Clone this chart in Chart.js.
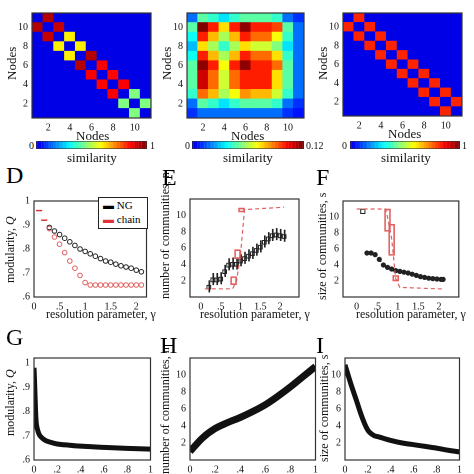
<!DOCTYPE html>
<html><head><meta charset="utf-8">
<script src="https://cdn.jsdelivr.net/npm/chart.js@4"></script>
<style>
body{margin:0;width:474px;height:474px;position:relative;overflow:hidden;background:#fff;font-family:"Liberation Serif",serif;}
canvas{position:absolute;}
.t{position:absolute;white-space:nowrap;font-size:12px;color:#111;line-height:13px;}
.r{transform:rotate(-90deg);transform-origin:left top;}
.L{position:absolute;font-size:24px;}
</style></head><body>
<script>
// ---------- data ----------
const nodes=['1','2','3','4','5','6','7','8','9','10','11'];
const edgesA=[0.95,0.93,0.64,0.64,0.95,0.88,0.87,0.88,0.5,0.5]; // similarity between node i and i+1 (panel A)
const edgesC=[0.84,0.84,0.84,0.84,0.84,0.84,0.84,0.84,0.84,0.84];
const matB=[ // rows from top (y=11) to bottom (y=1)
[0.02,0.05,0.045,0.035,0.045,0.05,0.05,0.05,0.045,0.02,0.012],
[0.05,0.12,0.1,0.075,0.1,0.118,0.1,0.1,0.095,0.05,0.02],
[0.04,0.1,0.08,0.06,0.08,0.1,0.09,0.09,0.07,0.045,0.02],
[0.03,0.075,0.06,0.045,0.06,0.075,0.065,0.065,0.055,0.035,0.02],
[0.04,0.1,0.08,0.06,0.08,0.1,0.09,0.09,0.075,0.045,0.02],
[0.05,0.118,0.1,0.07,0.1,0.118,0.1,0.1,0.09,0.05,0.02],
[0.05,0.11,0.09,0.065,0.09,0.1,0.1,0.1,0.075,0.05,0.02],
[0.05,0.11,0.09,0.065,0.09,0.1,0.1,0.1,0.075,0.05,0.02],
[0.045,0.09,0.08,0.06,0.07,0.085,0.08,0.08,0.065,0.045,0.02],
[0.02,0.05,0.045,0.035,0.045,0.05,0.05,0.05,0.045,0.02,0.012],
[0.012,0.02,0.02,0.02,0.02,0.02,0.02,0.02,0.02,0.012,0.008]];
const gammaD=[0.3,0.4,0.5,0.6,0.7,0.8,0.9,1.0,1.1,1.2,1.3,1.4,1.5,1.6,1.7,1.8,1.9,2.0,2.1];
const qNG=[0.89,0.875,0.86,0.845,0.83,0.815,0.80,0.79,0.78,0.77,0.76,0.75,0.745,0.737,0.73,0.725,0.72,0.712,0.705];
const qChain=[0.885,0.85,0.82,0.785,0.75,0.72,0.69,0.66,0.65,0.65,0.65,0.65,0.65,0.65,0.65,0.65,0.65,0.65,0.65];
const qStartG=[0.1,0.2], qStart=[0.96,0.92];
const gammaE=[0.2,0.3,0.4,0.5,0.6,0.7,0.8,0.9,1.0,1.1,1.2,1.3,1.4,1.5,1.6,1.7,1.8,1.9,2.0,2.1];
const nNG=[1.2,2.1,2.1,2.2,3.1,3.9,4.0,4.0,4.4,4.7,5.0,5.3,5.7,6.1,6.7,7.1,7.5,7.6,7.5,7.4];
const nChainG=[0.1,0.8,0.9,1.0,1.1,2.1], nChain=[1,1,2,5.2,10.7,11];
const gammaF=[0.15,0.25,0.35,0.45,0.55,0.65,0.75,0.85,0.95,1.05,1.15,1.25,1.35,1.45,1.55,1.65,1.75,1.85,1.95,2.05,2.1];
const sNG=[10.7,5.5,5.5,5.3,4.7,4.0,3.7,3.5,3.3,3.2,3.1,3.0,2.85,2.7,2.55,2.45,2.35,2.3,2.25,2.2,2.2];
const sChainG=[0,0.7,0.75,0.85,0.95,1.05,2.1], sChain=[11,11,10,7.3,2.3,1.2,1];
const boxE=[[0.9,1.5,2.5],[1.0,4.7,5.8],[1.1,10.4,10.9]];
const boxF=[[0.75,8.2,11],[0.85,5.2,9.1],[0.95,2.0,2.7]];
const xG=[0,0.005,0.01,0.02,0.04,0.06,0.1,0.15,0.2,0.3,0.4,0.6,0.8,1];
const qG=[0.98,0.92,0.85,0.75,0.71,0.695,0.68,0.672,0.666,0.661,0.657,0.652,0.648,0.645];
const xH=[0,0.1,0.2,0.3,0.4,0.5,0.6,0.7,0.8,0.9,1];
const nH=[1,2.6,3.7,4.4,5.0,5.7,6.5,7.5,8.6,9.8,11];
const xI=[0,0.05,0.1,0.15,0.2,0.25,0.3,0.4,0.5,0.6,0.7,0.8,0.9,1];
const sI=[11.2,9,7,5,3.5,2.9,2.7,2.3,2.0,1.8,1.6,1.4,1.15,0.95];
const nodeTicks=[2,4,6,8,10];

// ---------- helpers ----------
function jet(v){v=Math.max(0,Math.min(1,v));
 const f=t=>Math.max(0,Math.min(1,1.5-Math.abs(4*v-t)));
 return `rgb(${Math.round(255*f(3))},${Math.round(255*f(2))},${Math.round(255*f(1))})`;}
const FONT={family:'"Liberation Serif",serif',size:10};
const XH=13;
const box={id:'box',afterDraw(c){const a=c.chartArea,x=c.ctx;x.save();x.strokeStyle='#333';x.lineWidth=1.2;x.strokeRect(a.left,a.top,a.right-a.left,a.bottom-a.top);x.restore();}};
function mk(l,t,w,h,cfg,yw=18,xh=XH){const cv=document.createElement('canvas');
 cv.style.left=(l-yw)+'px';cv.style.top=t+'px';
 document.body.appendChild(cv);cfg.options=cfg.options||{};
 Object.assign(cfg.options,{responsive:false,animation:false,devicePixelRatio:2,layout:{padding:{right:2,top:0}},plugins:{legend:{display:false},tooltip:{enabled:false}}});
 cv.width=w+yw+2;cv.height=h+xh;
 const s=cfg.options.scales;
 s.x.afterFit=a=>{a.height=xh};s.y.afterFit=a=>{a.width=yw};
 for(const k of ['x','y']){s[k].grid={display:false,drawTicks:true,tickLength:2};s[k].border={display:true,color:'#333'};
  s[k].ticks=Object.assign({font:FONT,color:'#111',padding:2,maxRotation:0,autoSkip:false},s[k].ticks||{});}
 cfg.plugins=[box];return new Chart(cv,cfg);}
function txt(s,x,y,rot,size){const d=document.createElement('div');d.className='t'+(rot?' r':'');d.innerHTML=s;
 d.style.left=x+'px';d.style.top=y+'px';if(size)d.style.fontSize=size+'px';document.body.appendChild(d);return d;}
function letter(s,x,y){const d=document.createElement('div');d.className='L';d.textContent=s;d.style.left=x+'px';d.style.top=y+'px';document.body.appendChild(d);}
const fmtDec=v=>v===0?'0':String(+(+v).toFixed(1)).replace(/^0/,'');

// ---------- heatmaps (stacked bars: one dataset per row) ----------
function heat(l,t,w,h,colorAt){
 const ds=[];for(let yb=1;yb<=11;yb++)ds.push({data:nodes.map(()=>1),backgroundColor:nodes.map((_,c)=>colorAt(c+1,yb)),categoryPercentage:1,barPercentage:1,borderWidth:0});
 mk(l,t,w,h,{type:'bar',data:{labels:nodes,datasets:ds},
 options:{scales:{x:{stacked:true,ticks:{callback:(v,i)=>nodeTicks.includes(i+1)?nodes[i]:''}},
  y:{stacked:true,min:0,max:11,afterBuildTicks:a=>{a.ticks=nodeTicks.map(v=>({value:v-0.5}))},ticks:{callback:v=>v+0.5}}}}},14);}
const chainColor=edges=>(c,yb)=>{const r=12-yb;return Math.abs(r-c)===1?jet(edges[Math.min(r,c)-1]):jet(0.1);};
heat(32,5,119,113,chainColor(edgesA));
heat(187,5,117,113,(c,yb)=>jet(0.08+0.92*matB[11-yb][c-1]/0.12));
heat(343,5,119,111,chainColor(edgesC));
const cbN=64,cbLabels=Array.from({length:cbN},(_,i)=>i);
function cbar(l,t,w){const cv=document.createElement('canvas');cv.style.left=l+'px';cv.style.top=t+'px';cv.width=w;cv.height=8;document.body.appendChild(cv);
 new Chart(cv,{type:'bar',data:{labels:cbLabels,datasets:[{data:cbLabels.map(()=>1),backgroundColor:cbLabels.map(i=>jet(0.1+0.9*i/(cbN-1))),categoryPercentage:1,barPercentage:1.05}]},
 options:{responsive:false,animation:false,devicePixelRatio:2,layout:{padding:0},plugins:{legend:{display:false},tooltip:{enabled:false}},scales:{x:{display:false},y:{display:false,min:0,max:1}}},plugins:[box]});}
cbar(36,141,111);cbar(192,141,112);cbar(350,141,110);
txt('0',29,139,0,10);txt('1',150,139,0,10);txt('0',185,139,0,10);txt('0.12',306,139,0,10);txt('0',342,139,0,10);txt('1',462,139,0,10);
[[67,151],[223,151],[381,151]].forEach(p=>txt('similarity',p[0],p[1],0,13));
[[76,129],[231,129],[388,127]].forEach(p=>txt('Nodes',p[0],p[1],0,13));
[[5,80],[160,80],[316,80]].forEach(p=>txt('Nodes',p[0],p[1],1,13));

// ---------- D ----------
const xt=[0,0.5,1,1.5,2];
mk(34,193,116,104,{type:'scatter',data:{datasets:[
 {data:qStartG.map((g,i)=>({x:g,y:qStart[i]})),pointStyle:'line',pointRadius:3,borderColor:'#e0303a',borderWidth:1.5},
 {data:gammaD.map((g,i)=>({x:g,y:qChain[i]})),pointStyle:'circle',pointRadius:2.3,borderColor:'#e06060',backgroundColor:'rgba(0,0,0,0)',borderWidth:1},
 {data:gammaD.map((g,i)=>({x:g,y:qNG[i]})),pointStyle:'circle',pointRadius:2.3,borderColor:'#222',backgroundColor:'rgba(0,0,0,0)',borderWidth:1}]},
 options:{scales:{x:{type:'linear',min:0,max:2.2,afterBuildTicks:a=>{a.ticks=xt.map(v=>({value:v}))},ticks:{callback:fmtDec}},
 y:{type:'linear',min:0.6,max:1,afterBuildTicks:a=>{a.ticks=[0.6,0.7,0.8,0.9,1].map(v=>({value:v}))},ticks:{callback:fmtDec}}}}});
(()=>{const d=document.createElement('div');d.style.cssText='position:absolute;left:98px;top:197px;width:44px;height:30px;border:1px solid #222;background:#fff;font-size:11px;line-height:14px;padding-left:4px';
 d.innerHTML='<span style="color:#000;font-weight:bold">▬</span> NG<br><span style="color:#e0303a;font-weight:bold">▬</span> chain';document.body.appendChild(d);})();

// ---------- E ----------
function boxDs(bx,col){return [{type:'bar',data:bx.map(b=>({x:b[0],y:[b[1],b[2]]})),backgroundColor:'rgba(0,0,0,0)',borderColor:col,borderWidth:1,borderSkipped:false,barThickness:6}];}
mk(190,191,112,106,{type:'scatter',data:{datasets:[
 {type:'line',data:nChainG.map((g,i)=>({x:g,y:nChain[i]})),borderColor:'#e06060',borderDash:[4,3],borderWidth:1.2,pointRadius:0},
 ...boxDs(boxE,'#e06060'),
 {data:gammaE.map((g,i)=>({x:g,y:nNG[i]})),pointStyle:'rect',pointRadius:2.6,borderColor:'#222',backgroundColor:'rgba(0,0,0,0)',borderWidth:1},
 {type:'bar',data:gammaE.map((g,i)=>({x:g,y:[nNG[i]-0.6,nNG[i]+0.8]})),backgroundColor:'#222',barThickness:1}]},
 options:{scales:{x:{type:'linear',min:0,max:2.2,afterBuildTicks:a=>{a.ticks=xt.map(v=>({value:v}))},ticks:{callback:fmtDec}},
 y:{type:'linear',min:0,max:12,afterBuildTicks:a=>{a.ticks=[2,4,6,8,10].map(v=>({value:v}))}}}}});

// ---------- F ----------
mk(343,193,119,104,{type:'scatter',data:{datasets:[
 {type:'line',data:sChainG.map((g,i)=>({x:g,y:sChain[i]})),borderColor:'#e06060',borderDash:[4,3],borderWidth:1.2,pointRadius:0},
 ...boxDs(boxF,'#e06060'),
 {type:'line',data:gammaF.slice(1).map((g,i)=>({x:g,y:sNG[i+1]})),borderColor:'#222',borderDash:[4,3],borderWidth:1.2,pointRadius:2,pointBackgroundColor:'#222'},
 {data:[{x:gammaF[0],y:sNG[0]}],pointStyle:'rect',pointRadius:3,borderColor:'#222',backgroundColor:'rgba(0,0,0,0)'}]},
 options:{scales:{x:{type:'linear',min:-0.05,max:2.2,afterBuildTicks:a=>{a.ticks=xt.map(v=>({value:v}))},ticks:{callback:fmtDec}},
 y:{type:'linear',min:0,max:12,afterBuildTicks:a=>{a.ticks=[2,4,6,8,10].map(v=>({value:v}))}}}}});

// ---------- G H I ----------
const xt2=[0,0.2,0.4,0.6,0.8,1];
function curve(l,t,w,h,xs,ys,ymin,ymax,yt,yfmt,lw){mk(l,t,w,h,{type:'line',data:{datasets:[{data:xs.map((x,i)=>({x,y:ys[i]})),borderColor:'#111',borderWidth:lw,pointRadius:0,tension:0.35}]},
 options:{scales:{x:{type:'linear',min:0,max:1,afterBuildTicks:a=>{a.ticks=xt2.map(v=>({value:v}))},ticks:{callback:fmtDec}},
 y:{type:'linear',min:ymin,max:ymax,afterBuildTicks:a=>{a.ticks=yt.map(v=>({value:v}))},ticks:{callback:yfmt}}}}});}
curve(34,350,119,110,xG,qG,0.6,1.02,[0.6,0.7,0.8,0.9,1],fmtDec,5);
curve(190,350,128,110,xH,nH,0,12,[2,4,6,8,10],v=>v,7);
curve(345,350,117,110,xI,sI,0,12,[2,4,6,8,10],v=>v,5);

// ---------- text ----------
letter('D',6,162);letter('E',162,164);letter('F',316,164);letter('G',6,324);letter('H',160,332);letter('I',316,332);
txt('resolution parameter, γ',46,308);txt('resolution parameter, γ',200,308);txt('resolution parameter, γ',356,308);
txt('modularity, <i>Q</i>',4,283,1);
txt('number of communities, n',159,299,1);
txt('size of communities, s',316,300,1);
txt('modularity, <i>Q</i>',4,436,1);
txt('number of communities, n',159,474,1);
txt('size of communities, s',318,462,1);
</script>
</body></html>
